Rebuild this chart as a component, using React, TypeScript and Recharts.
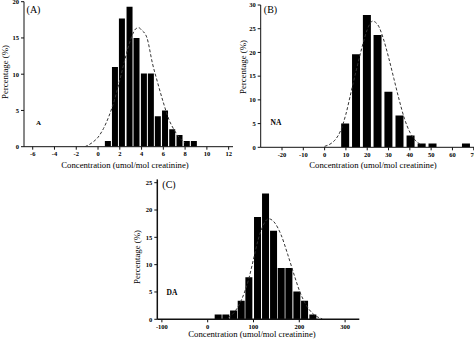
import React from 'react';
import { ComposedChart, Bar, Line, XAxis, YAxis } from 'recharts';

const FONT = '"Liberation Serif", "Times New Roman", Times, serif';

// ---------- Panel A (A) ----------
const aBinCenters = [0.95, 1.6, 2.24, 2.94, 3.58, 4.26, 4.9, 5.54, 6.2, 6.86, 7.53, 8.2, 8.85];
const aPercent = [0.8, 11, 17.7, 19.3, 15.0, 10.1, 10.1, 4.2, 5.0, 2.4, 1.6, 0.8, 0.8];
const aCurveX = [-1.2, -0.5, 0, 0.5, 1, 1.5, 2, 2.5, 3, 3.5, 3.75, 4, 4.5, 5, 5.5, 6, 6.5, 7, 7.5, 8];
const aCurveY = [0, 0.6, 1.3, 2.5, 4.2, 6.4, 9.2, 12.2, 14.8, 16.3, 16.4, 16.1, 15.0, 11.5, 8.7, 6.1, 3.8, 2.3, 1.2, 0.5];
const aXTicks = [-6, -4, -2, 0, 2, 4, 6, 8, 10, 12];
const aYTicks = [0, 5, 10, 15, 20];

// ---------- Panel B (NA) ----------
const bBinCenters = [9.8, 14.9, 20, 25, 30.1, 35.3, 40.5, 45.7, 50.8, 66.5];
const bPercent = [5.0, 19.6, 27.9, 23.7, 11.7, 6.7, 2.5, 0.8, 0.8, 0.8];
const bCurveX = [0, 3, 5, 7.5, 10, 12.5, 15, 17.5, 20, 22.5, 25, 27.5, 30, 32.5, 35, 37.5, 40, 42.5, 45];
const bCurveY = [0.2, 0.8, 1.6, 3.5, 7, 11.8, 16.5, 21, 24.8, 26.6, 25.8, 23, 19, 14.5, 10, 6, 3.2, 1.5, 0.6];
const bXTicks = [-20, -10, 0, 10, 20, 30, 40, 50, 60, 70];
const bYTicks = [0, 5, 10, 15, 20, 25, 30];

// ---------- Panel C (DA) ----------
const cBinCenters = [23.6, 40.4, 57.2, 73.9, 90.6, 109.5, 127, 144.5, 161.2, 178, 195.4, 212.2, 230.3];
const cPercent = [0.9, 0.9, 1.6, 3.4, 7.7, 18.7, 23.0, 16.2, 9.4, 9.4, 5.1, 3.4, 0.9];
const cCurveX = [45, 60, 75, 90, 100, 110, 120, 133, 145, 160, 175, 190, 200, 215, 230, 250];
const cCurveY = [0.3, 1.5, 3.8, 7.5, 11, 14.5, 17, 18.4, 17.8, 15.5, 11.8, 7.8, 5.3, 2.6, 1.0, 0.1];
const cXTicks = [-100, 0, 100, 200, 300];
const cYTicks = [0, 5, 10, 15, 20, 25];

type PanelProps = {
  left: number; top: number; width: number; height: number;
  marginTop: number; marginRight: number; yAxisWidth: number; xAxisHeight: number;
  xDomain: [number, number]; yDomain: [number, number];
  xTicks: number[]; yTicks: number[];
  binCenters: number[]; percent: number[];
  curveX: number[]; curveY: number[];
  barSize: number; axisWidth: number;
};

const tickStyle = { fontSize: 6.5, fontWeight: 700, fontFamily: FONT, fill: '#000' };

function Panel(p: PanelProps) {
  const barData = p.binCenters.map((x, i) => ({ x, pct: p.percent[i] }));
  const curveData = p.curveX.map((x, i) => ({ x, fit: p.curveY[i] }));
  const margin = { top: p.marginTop, right: p.marginRight, left: 0, bottom: 0 };
  const boxStyle: React.CSSProperties = { position: 'absolute', left: p.left, top: p.top };
  return (
    <>
      <div style={boxStyle}>
        <ComposedChart width={p.width} height={p.height} data={barData} margin={margin}>
          <XAxis
            dataKey="x" type="number" domain={p.xDomain} ticks={p.xTicks} interval={0}
            allowDataOverflow height={p.xAxisHeight} tickSize={3} tickMargin={2}
            axisLine={{ stroke: '#111', strokeWidth: p.axisWidth }} tickLine={{ stroke: '#111' }}
            tick={tickStyle}
          />
          <YAxis
            type="number" domain={p.yDomain} ticks={p.yTicks} interval={0}
            allowDataOverflow width={p.yAxisWidth} tickSize={3} tickMargin={2}
            axisLine={{ stroke: '#111', strokeWidth: p.axisWidth }} tickLine={{ stroke: '#111' }}
            tick={tickStyle}
          />
          <Bar dataKey="pct" fill="#000" barSize={p.barSize} isAnimationActive={false} />
        </ComposedChart>
      </div>
      <div style={boxStyle}>
        <ComposedChart width={p.width} height={p.height} data={curveData} margin={margin}>
          <XAxis
            dataKey="x" type="number" domain={p.xDomain} ticks={p.xTicks}
            allowDataOverflow height={p.xAxisHeight} axisLine={false} tickLine={false} tick={false}
          />
          <YAxis
            type="number" domain={p.yDomain} ticks={p.yTicks}
            allowDataOverflow width={p.yAxisWidth} axisLine={false} tickLine={false} tick={false}
          />
          <Line
            dataKey="fit" type="monotone" stroke="#333" strokeWidth={1}
            strokeDasharray="3 2" dot={false} isAnimationActive={false}
          />
        </ComposedChart>
      </div>
    </>
  );
}

function Txt(props: { x: number; y: number; size: number; bold?: boolean; rotate?: boolean; children: React.ReactNode }) {
  return (
    <div
      style={{
        position: 'absolute', left: props.x, top: props.y,
        transform: `translate(-50%, -50%)${props.rotate ? ' rotate(-90deg)' : ''}`,
        fontFamily: FONT, fontSize: props.size, fontWeight: props.bold ? 700 : 400,
        lineHeight: 1, whiteSpace: 'nowrap', color: '#000',
      }}
    >
      {props.children}
    </div>
  );
}

const xTitle = 'Concentration (umol/mol creatinine)';
const yTitle = 'Percentage (%)';

export default function App() {
  return (
    <div style={{ position: 'absolute', left: 0, top: 0, width: 474, height: 341, overflow: 'hidden', background: '#fff' }}>
      <Panel
        left={0} top={0} width={240} height={170}
        marginTop={1.7} marginRight={7} yAxisWidth={24} xAxisHeight={23.3}
        xDomain={[-6.8, 12.4]} yDomain={[0, 20]} xTicks={aXTicks} yTicks={aYTicks}
        binCenters={aBinCenters} percent={aPercent} curveX={aCurveX} curveY={aCurveY}
        barSize={6} axisWidth={1}
      />
      <Panel
        left={240} top={0} width={247} height={170}
        marginTop={5} marginRight={2.6} yAxisWidth={20.7} xAxisHeight={22.7}
        xDomain={[-30, 75]} yDomain={[0, 30]} xTicks={bXTicks} yTicks={bYTicks}
        binCenters={bBinCenters} percent={bPercent} curveX={bCurveX} curveY={bCurveY}
        barSize={8} axisWidth={1}
      />
      <Panel
        left={130} top={170} width={234} height={171}
        marginTop={9.4} marginRight={4.7} yAxisWidth={27.3} xAxisHeight={21.7}
        xDomain={[-110, 331]} yDomain={[0, 25.6]} xTicks={cXTicks} yTicks={cYTicks}
        binCenters={cBinCenters} percent={cPercent} curveX={cCurveX} curveY={cCurveY}
        barSize={7} axisWidth={1.5}
      />
      <Txt x={33.5} y={10} size={10}>(A)</Txt>
      <Txt x={270.5} y={10} size={10}>(B)</Txt>
      <Txt x={169} y={185} size={10}>(C)</Txt>
      <Txt x={38.5} y={122.7} size={7} bold>A</Txt>
      <Txt x={276} y={122.7} size={7.5} bold>NA</Txt>
      <Txt x={172} y={292.7} size={7.5} bold>DA</Txt>
      <Txt x={125} y={164.5} size={8.7}>{xTitle}</Txt>
      <Txt x={373} y={165} size={8.7}>{xTitle}</Txt>
      <Txt x={252} y={334} size={8.7}>{xTitle}</Txt>
      <Txt x={5} y={72} size={8.8} rotate>{yTitle}</Txt>
      <Txt x={243} y={67} size={8.8} rotate>{yTitle}</Txt>
      <Txt x={137} y={257} size={8.8} rotate>{yTitle}</Txt>
    </div>
  );
}
